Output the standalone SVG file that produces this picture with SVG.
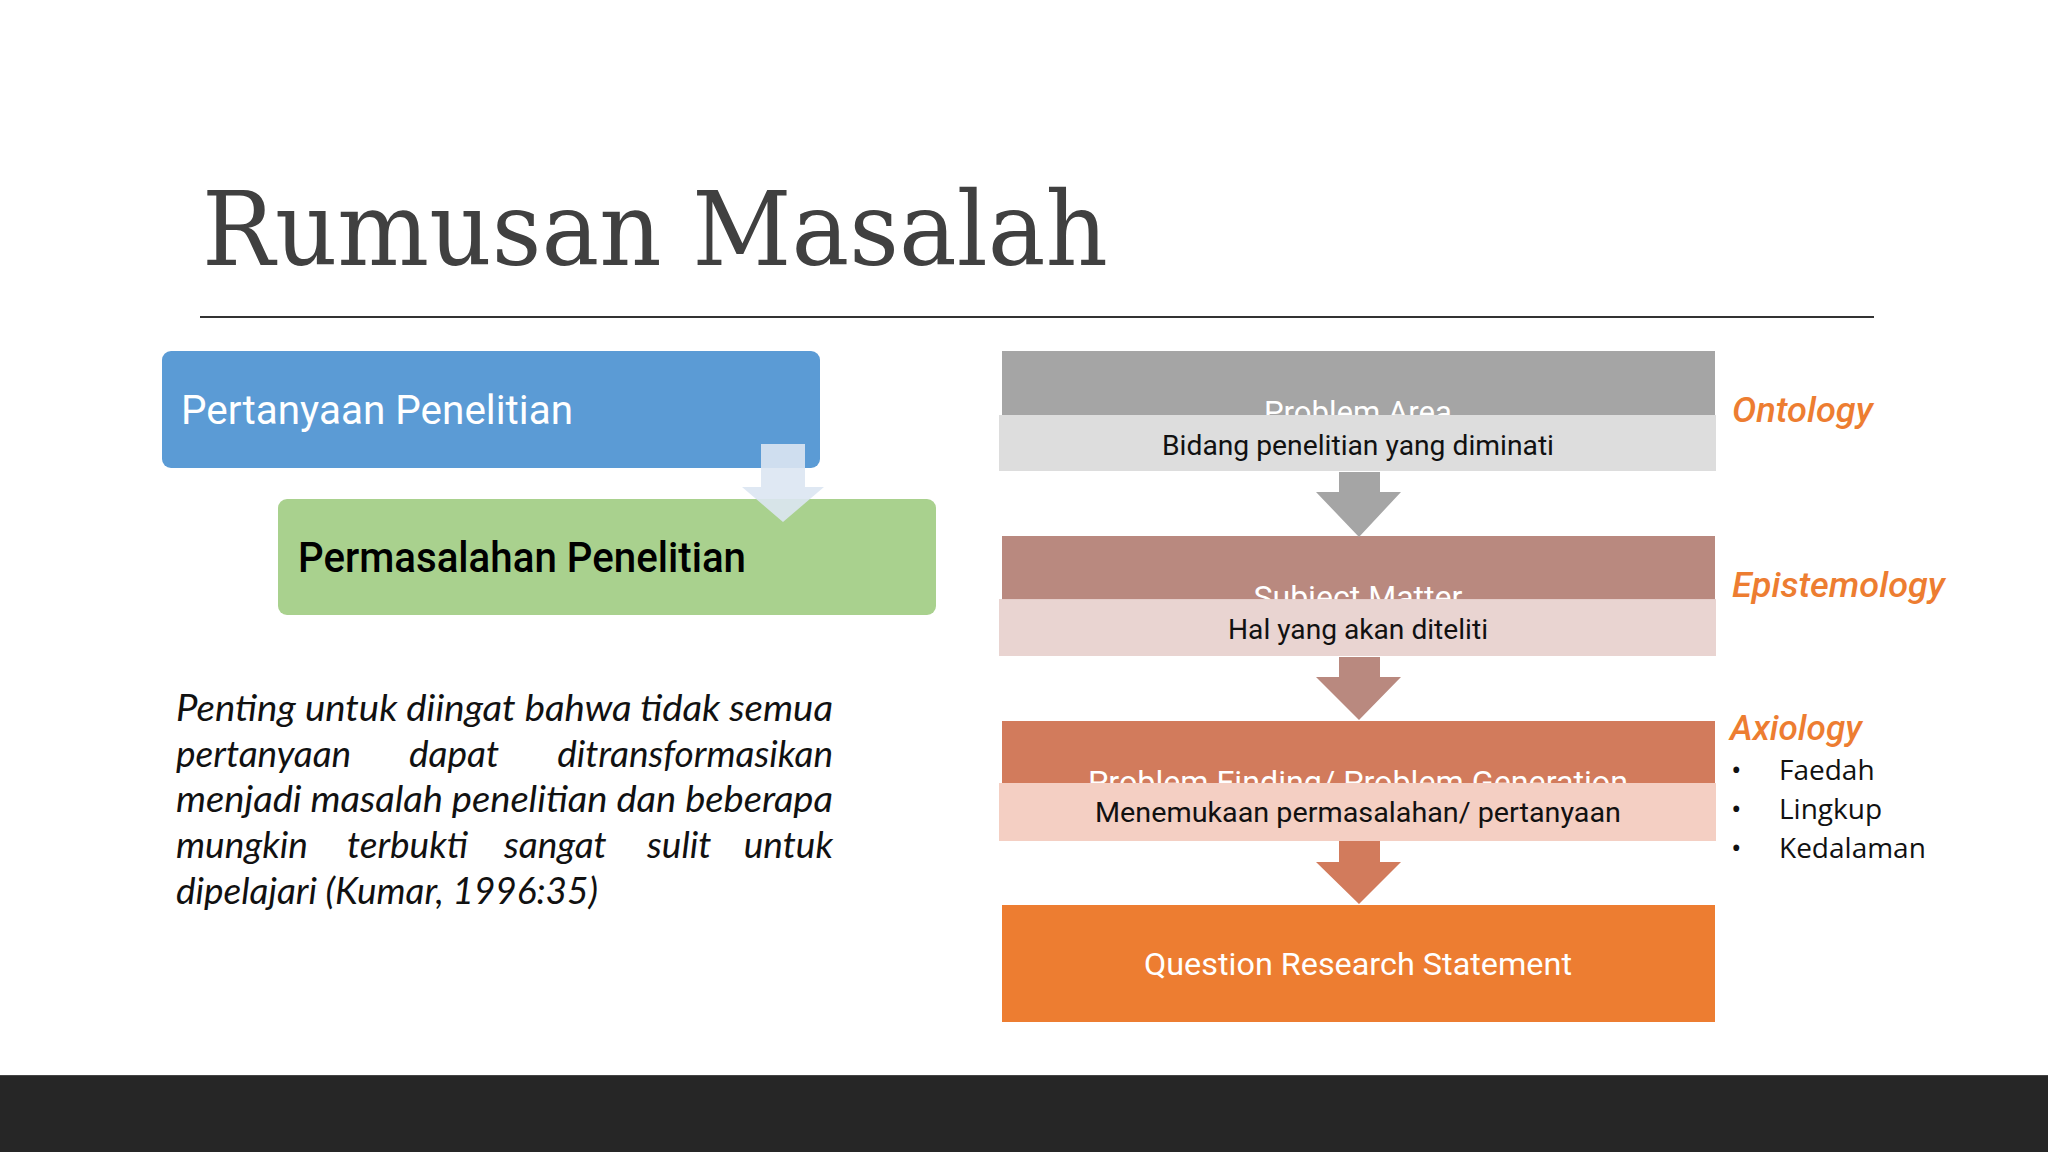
<svg xmlns="http://www.w3.org/2000/svg" width="2048" height="1152" viewBox="0 0 2048 1152">
<style>
.cond{font-family:Roboto,"Liberation Sans",sans-serif}
.sub{font-family:Roboto,"Liberation Sans",sans-serif;font-size:27px;fill:#111;text-anchor:middle}
.head{font-family:Roboto,"Liberation Sans",sans-serif;font-size:31px;fill:#fff;text-anchor:middle}
.para{font-family:Lato,"Open Sans",sans-serif;font-style:italic;font-size:37px;fill:#111}
.phil{font-family:Roboto,"Liberation Sans",sans-serif;font-style:italic;font-weight:500;font-size:35px;fill:#ED7D31}
.bul{font-family:"Open Sans","Liberation Sans",sans-serif;font-size:28px;fill:#111}
</style>
<rect width="2048" height="1152" fill="#fff"/>
<g id="title">
<text x="202" y="265" font-family="'DejaVu Serif','Liberation Serif',serif" font-size="103" fill="#404040" textLength="906" lengthAdjust="spacingAndGlyphs">Rumusan Masalah</text>
<line x1="200" y1="317" x2="1874" y2="317" stroke="#333" stroke-width="2"/>
</g>
<g id="node-pertanyaan">
<rect x="162" y="351" width="658" height="117" rx="9" fill="#5B9BD5"/>
<text x="181" y="424" class="cond" font-size="40" fill="#fff" textLength="392" lengthAdjust="spacingAndGlyphs">Pertanyaan Penelitian</text>
</g>
<g id="node-permasalahan">
<rect x="278" y="499" width="658" height="116" rx="9" fill="#A9D18E"/>
<text x="298" y="572" class="cond" font-size="42" font-weight="500" fill="#000" textLength="448" lengthAdjust="spacingAndGlyphs">Permasalahan Penelitian</text>
</g>
<g id="paragraph">
<text class="para" x="176" y="721" textLength="657" lengthAdjust="spacingAndGlyphs">Penting untuk diingat bahwa tidak semua</text>
<text class="para" y="767"><tspan x="176">pertanyaan</tspan><tspan x="409">dapat</tspan></text>
<text class="para" x="833" y="767" text-anchor="end">ditransformasikan</text>
<text class="para" x="176" y="812" textLength="657" lengthAdjust="spacingAndGlyphs">menjadi masalah penelitian dan beberapa</text>
<text class="para" y="858"><tspan x="176">mungkin</tspan><tspan x="347">terbukti</tspan><tspan x="504">sangat</tspan><tspan x="647">sulit</tspan></text>
<text class="para" x="833" y="858" text-anchor="end">untuk</text>
<text class="para" x="176" y="904" textLength="422" lengthAdjust="spacingAndGlyphs">dipelajari (Kumar, 1996:35)</text>
</g>
<g id="node-problem-area">
<rect x="1002" y="351" width="713" height="64" fill="#A5A5A5"/>
<text class="head" x="1358" y="423" textLength="188" lengthAdjust="spacingAndGlyphs">Problem Area</text>
<rect x="999" y="415" width="717" height="56" fill="#DBDBDB" fill-opacity="0.94"/>
<text class="sub" x="1358" y="455" textLength="392" lengthAdjust="spacingAndGlyphs">Bidang penelitian yang diminati</text>
</g>
<g id="node-subject-matter">
<rect x="1002" y="536" width="713" height="64" fill="#B9897F"/>
<text class="head" x="1358" y="608" textLength="209" lengthAdjust="spacingAndGlyphs">Subject Matter</text>
<rect x="999" y="599" width="717" height="57" fill="#E8D1CE" fill-opacity="0.94"/>
<text class="sub" x="1358" y="639" textLength="260" lengthAdjust="spacingAndGlyphs">Hal yang akan diteliti</text>
</g>
<g id="node-problem-finding">
<rect x="1002" y="721" width="713" height="62" fill="#D27B5C"/>
<text class="head" x="1358" y="793" textLength="540" lengthAdjust="spacingAndGlyphs">Problem Finding/ Problem Generation</text>
<rect x="999" y="783" width="717" height="58" fill="#F3CCBF" fill-opacity="0.94"/>
<text class="sub" x="1358" y="822" textLength="526" lengthAdjust="spacingAndGlyphs">Menemukaan permasalahan/ pertanyaan</text>
</g>
<g id="node-question">
<rect x="1002" y="905" width="713" height="117" fill="#ED7D31"/>
<text class="head" x="1358" y="975" font-size="33" textLength="428" lengthAdjust="spacingAndGlyphs">Question Research Statement</text>
</g>
<g id="labels">
<text class="phil" x="1732" y="422" textLength="141" lengthAdjust="spacingAndGlyphs">Ontology</text>
<text class="phil" x="1732" y="597" textLength="213" lengthAdjust="spacingAndGlyphs">Epistemology</text>
<text class="phil" x="1730" y="740" textLength="132" lengthAdjust="spacingAndGlyphs">Axiology</text>
<text class="bul" x="1731" y="780">•</text><text class="bul" x="1779" y="780">Faedah</text>
<text class="bul" x="1731" y="819">•</text><text class="bul" x="1779" y="819">Lingkup</text>
<text class="bul" x="1731" y="858">•</text><text class="bul" x="1779" y="858">Kedalaman</text>
</g>
<g id="connectors">
<path d="M761,444 H805 V487 H824 L783,522 L742,487 H761 Z" fill="#DCE6F2" fill-opacity="0.9"/>
<path d="M1339,472 H1380 V492 H1401 L1359,537 L1316,492 H1339 Z" fill="#A5A5A5"/>
<path d="M1339,657 H1380 V677 H1401 L1359,720 L1316,677 H1339 Z" fill="#B9897F"/>
<path d="M1339,841 H1380 V862 H1401 L1359,904 L1316,862 H1339 Z" fill="#D27B5C"/>
</g>
<g id="footer">
<rect x="0" y="1075" width="2048" height="77" fill="#262626"/>
<line x1="0" y1="1075.5" x2="2048" y2="1075.5" stroke="#444" stroke-width="1"/>
</g>
</svg>
